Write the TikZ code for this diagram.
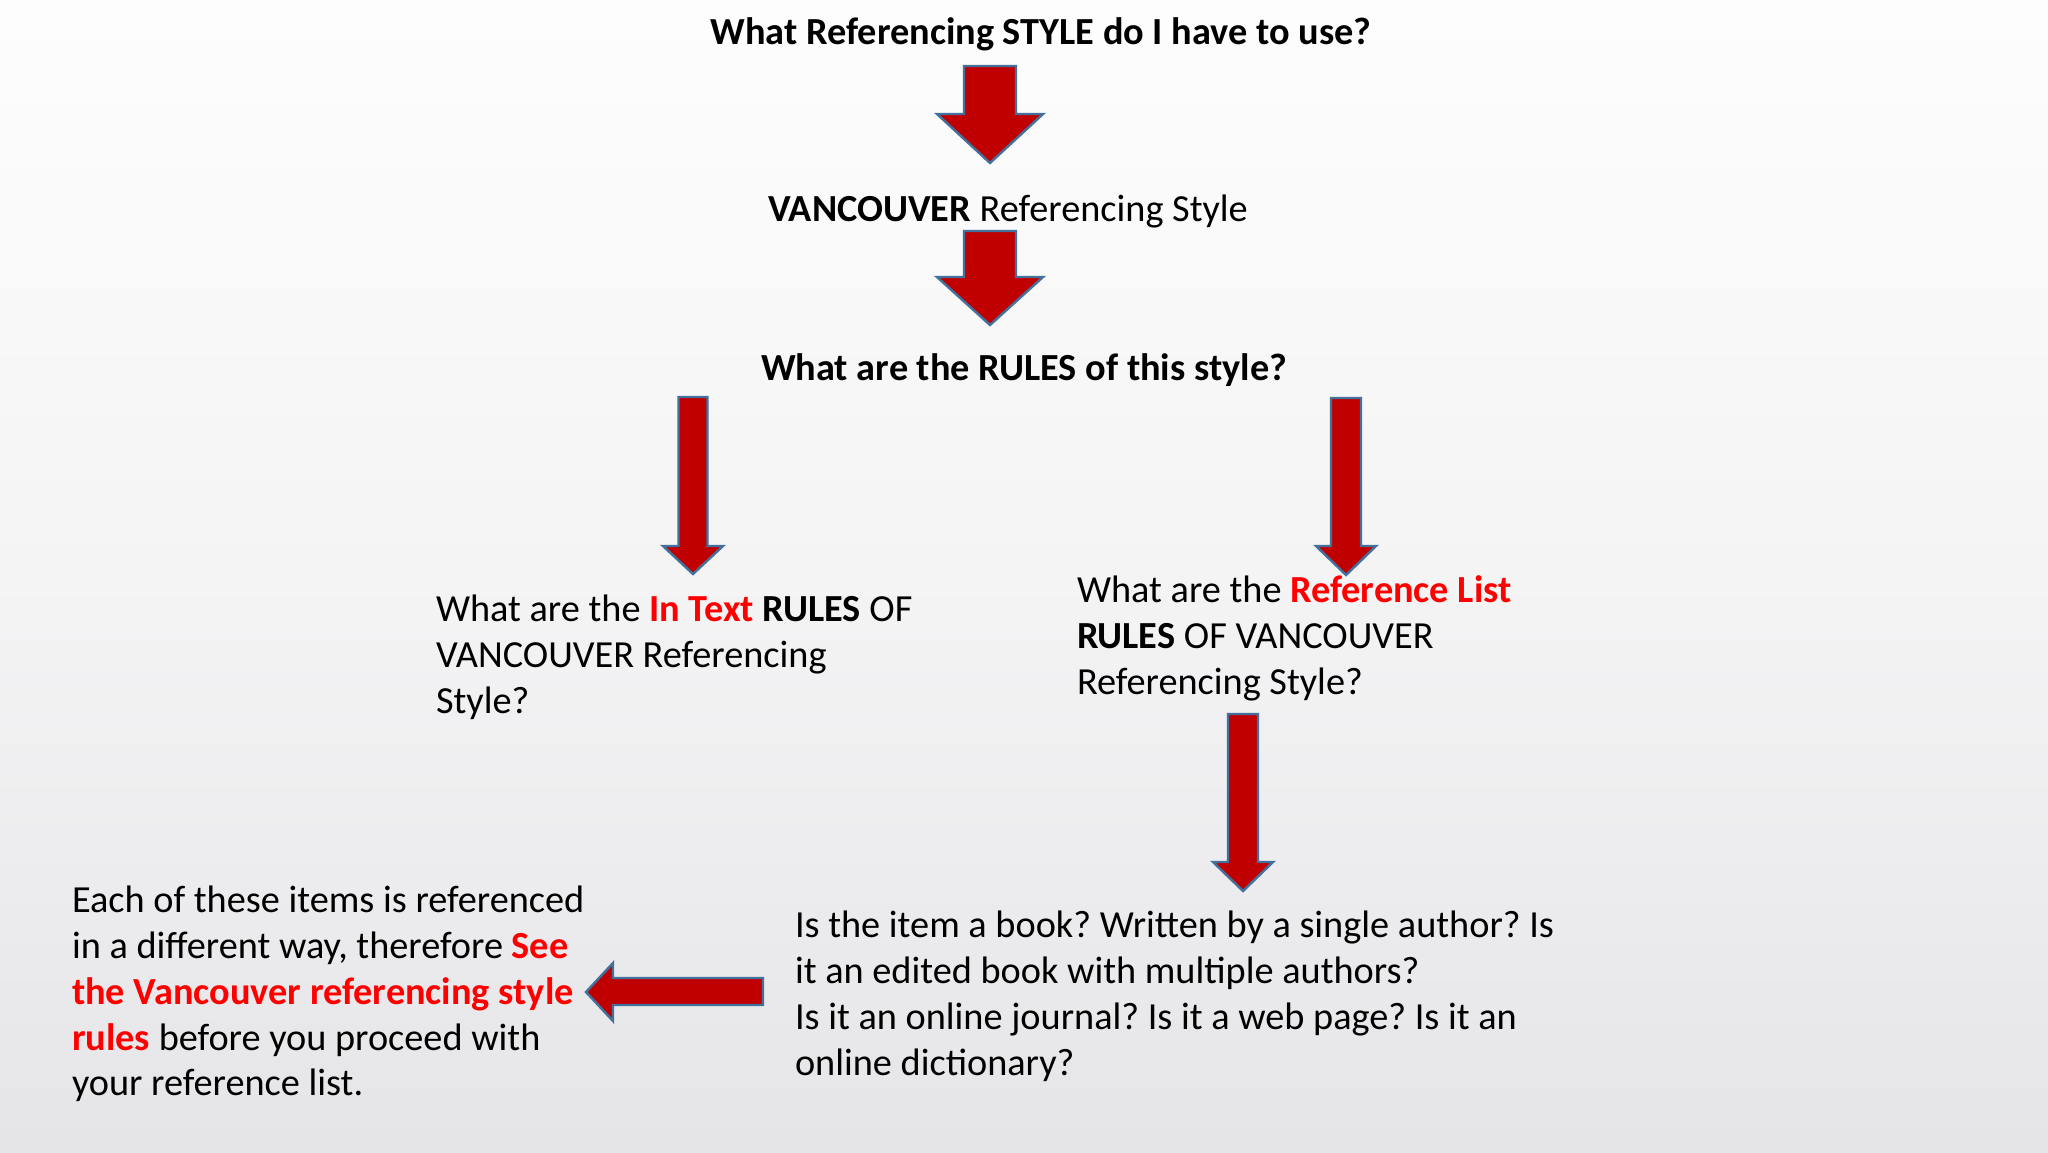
\documentclass[tikz,border=0pt]{standalone}
\usepackage{fontspec}
\setmainfont{Carlito}
\frenchspacing
\definecolor{arrfill}{HTML}{C00000}
\definecolor{arrline}{HTML}{41719C}
\definecolor{hred}{HTML}{FF0000}
\definecolor{bgbot}{HTML}{D6D6DB}
\definecolor{bgmid}{HTML}{F4F4F5}
\pgfdeclareverticalshading{slidebg}{100bp}{color(0bp)=(bgbot); color(50bp)=(bgmid); color(80bp)=(white); color(100bp)=(white)}
\newcommand\hl[1]{\textcolor{hred}{\textbf{#1}}}
\newcommand\blkdown[6]{%
  \draw[blockarrow] ({#1-#5},{#2}) -- ({#1+#5},{#2}) -- ({#1+#5},{#3}) -- ({#1+#6},{#3})
    -- ({#1},{#4}) -- ({#1-#6},{#3}) -- ({#1-#5},{#3}) -- cycle;}
\tikzset{
  blockarrow/.style={fill=arrfill, draw=arrline, line width=1.2pt, line join=miter},
  txt/.style={inner sep=0pt, outer sep=0pt, align=left, font=\fontsize{19.15pt}{22.9pt}\selectfont\frenchspacing},
  btxt/.style={txt, font=\fontsize{19.15pt}{22.9pt}\selectfont\bfseries},
}
\begin{document}
\begin{tikzpicture}[x=0.5pt,y=-0.5pt]
\useasboundingbox (0,0) rectangle (2048,1152);
\fill[shading=slidebg] (0,0) rectangle (2048,1152);

\node[btxt] (q1) at (1041,34) {What Referencing STYLE do I have to use?};
\node[txt] (van) at (1008,211) {\textbf{VANCOUVER} Referencing Style};
\node[btxt] (rules) at (1024,370) {What are the RULES of this style?};

\node[txt, anchor=north west] (intext) at (436,595) {What are the \hl{In Text} \textbf{RULES} OF\\VANCOUVER Referencing\\Style?};
\node[txt, anchor=north west] (reflist) at (1077,576) {What are the \hl{Reference List}\\\textbf{RULES} OF VANCOUVER\\Referencing Style?};
\node[txt, anchor=north west] (items) at (795,911) {Is the item a book? Written by a single author? Is\\it an edited book with multiple authors?\\Is it an online journal? Is it a web page? Is it an\\online dictionary?};
\node[txt, anchor=north west] (each) at (72,886) {Each of these items is referenced\\in a different way, therefore \hl{See}\\\hl{the Vancouver referencing style}\\\hl{rules} before you proceed with\\your reference list.};

\blkdown{990}{66}{114}{163}{26}{53}
\blkdown{990}{231}{277}{325}{26}{53}
\blkdown{693}{397}{546}{574}{14.5}{30}
\blkdown{1346}{398}{546}{575}{15}{30}
\blkdown{1243}{714}{862}{891}{15}{30}
\draw[blockarrow] (763,978) -- (763,1005) -- (613,1005) -- (613,1021) -- (586,992) -- (613,963) -- (613,978) -- cycle;
\end{tikzpicture}
\end{document}
